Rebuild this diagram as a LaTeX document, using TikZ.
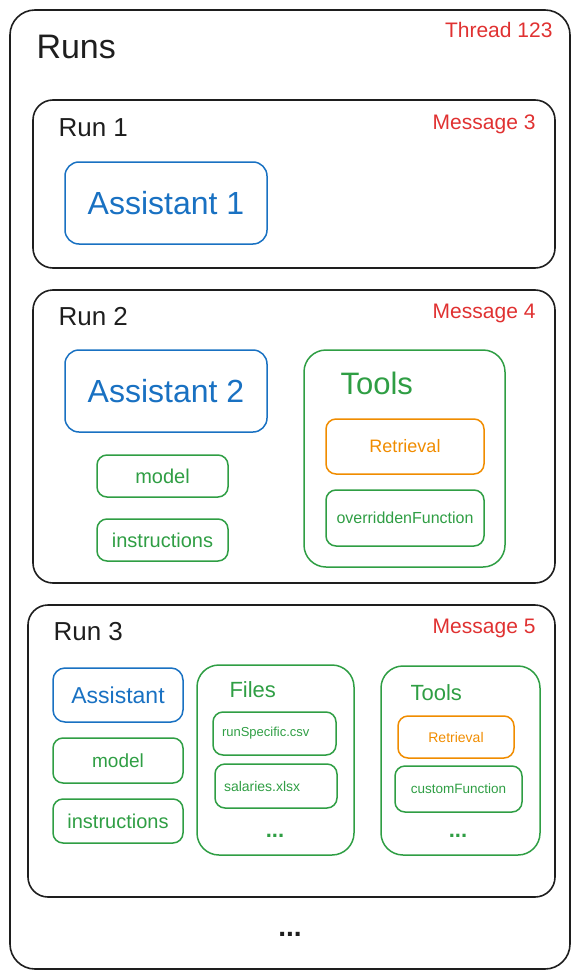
\documentclass[tikz,border=0pt]{standalone}
\usepackage{fontspec}
\setmainfont{Liberation Sans}
\usetikzlibrary{positioning}
\definecolor{inkblack}{HTML}{1E1E1E}
\definecolor{inkblue}{HTML}{1971C2}
\definecolor{inkgreen}{HTML}{2F9E44}
\definecolor{inkorange}{HTML}{F08C00}
\definecolor{inkred}{HTML}{E03131}
\tikzstyle{frame} = [rectangle, rounded corners=20pt, draw=inkblack, line width=1.6pt]
\tikzstyle{assistant} = [rectangle, rounded corners=14pt, draw=inkblue, line width=1.5pt, text=inkblue]
\tikzstyle{item} = [rectangle, rounded corners=10pt, draw=inkgreen, line width=1.5pt, text=inkgreen]
\tikzstyle{retrieval} = [rectangle, rounded corners=10pt, draw=inkorange, line width=1.5pt, text=inkorange]
\tikzstyle{group} = [rectangle, rounded corners=22pt, draw=inkgreen, line width=1.5pt]
\tikzstyle{title} = [anchor=west, text=inkblack]
\tikzstyle{msg} = [anchor=east, text=inkred]
\tikzstyle{grouptitle} = [anchor=west, text=inkgreen]
\tikzstyle{dots} = [text=inkgreen, font=\fontsize{22}{22}\selectfont\bfseries]

\begin{document}
\begin{tikzpicture}[x=1pt, y=-1pt]
		\useasboundingbox (0,0) rectangle (579,979);
		% thread
		\node (thread) [frame, rounded corners=25pt, minimum width=560pt, minimum height=959pt] at (290,489.5) {};
		\node (runs) [title, font=\fontsize{34}{40}\selectfont] at (33,47) {Runs};
		\node (threadid) [msg, font=\fontsize{21}{24}\selectfont] at (556,30) {Thread 123};
		
		% run 1
		\node (run1) [frame, minimum width=522pt, minimum height=168pt] at (294,184) {};
		\node (run1title) [title, font=\fontsize{26}{30}\selectfont] at (55,128) {Run 1};
		\node (msg3) [msg, font=\fontsize{21}{24}\selectfont] at (539,124) {Message 3};
		\node (asst1) [assistant, minimum width=202pt, minimum height=82pt, font=\fontsize{32}{36}\selectfont] at (166,203) {Assistant 1};
		
		% run 2
		\node (run2) [frame, minimum width=522pt, minimum height=293pt] at (294,436.5) {};
		\node (run2title) [title, font=\fontsize{26}{30}\selectfont] at (55,317) {Run 2};
		\node (msg4) [msg, font=\fontsize{21}{24}\selectfont] at (539,313) {Message 4};
		\node (asst2) [assistant, minimum width=202pt, minimum height=82pt, font=\fontsize{32}{36}\selectfont] at (166,391) {Assistant 2};
		\node (model2) [item, minimum width=131pt, minimum height=42pt, font=\fontsize{20}{24}\selectfont] at (162.5,476) {model};
		\node (instr2) [item, minimum width=131pt, minimum height=42pt, font=\fontsize{20}{24}\selectfont, below of=model2, node distance=64pt] {instructions};
		\node (tools2) [group, minimum width=201pt, minimum height=217pt] at (404.5,458.5) {};
		\node (tools2title) [grouptitle, font=\fontsize{31}{36}\selectfont] at (337,383) {Tools};
		\node (retr2) [retrieval, minimum width=158pt, minimum height=55pt, font=\fontsize{18}{22}\selectfont] at (405,446.5) {Retrieval};
		\node (overfn) [item, minimum width=158pt, minimum height=56pt, font=\fontsize{16}{20}\selectfont, below of=retr2, node distance=71.5pt] {overriddenFunction};
		
		% run 3
		\node (run3) [frame, minimum width=527pt, minimum height=292pt] at (291.5,751) {};
		\node (run3title) [title, font=\fontsize{26}{30}\selectfont] at (50,632) {Run 3};
		\node (msg5) [msg, font=\fontsize{21}{24}\selectfont] at (539,628) {Message 5};
		\node (asst3) [assistant, rounded corners=12pt, minimum width=130pt, minimum height=54pt, font=\fontsize{23}{28}\selectfont] at (118,695) {Assistant};
		\node (model3) [item, minimum width=130pt, minimum height=45pt, font=\fontsize{19}{24}\selectfont, below of=asst3, node distance=65.5pt] {model};
		\node (instr3) [item, minimum width=130pt, minimum height=44pt, font=\fontsize{20}{24}\selectfont, below of=model3, node distance=60.5pt] {instructions};
		\node (files) [group, minimum width=157pt, minimum height=190pt] at (275.5,760) {};
		\node (filestitle) [grouptitle, font=\fontsize{22}{26}\selectfont] at (226,690) {Files};
		\node (runcsv) [item, minimum height=43pt, text width=105pt, inner xsep=9pt, align=left, font=\fontsize{13}{16}\selectfont] at (274.5,733.5) {runSpecific.csv};
		\node (salxlsx) [item, minimum height=44pt, text width=104pt, inner xsep=9pt, align=left, font=\fontsize{14}{16}\selectfont, below of=runcsv, node distance=52.5pt, xshift=1.5pt] {salaries.xlsx};
		\node (filesdots) [dots] at (275,836) {...};
		\node (tools3) [group, minimum width=159pt, minimum height=189pt] at (460.5,760.5) {};
		\node (tools3title) [grouptitle, font=\fontsize{22}{26}\selectfont] at (407,693) {Tools};
		\node (retr3) [retrieval, minimum width=116pt, minimum height=42pt, font=\fontsize{14}{16}\selectfont] at (456,737) {Retrieval};
		\node (customfn) [item, minimum width=127pt, minimum height=46pt, font=\fontsize{13.5}{16}\selectfont, below of=retr3, node distance=52pt, xshift=2.5pt] {customFunction};
		\node (toolsdots) [dots] at (458,836) {...};
		
		% more runs
		\node (moredots) [text=inkblack, font=\fontsize{28}{28}\selectfont\bfseries] at (290,934) {...};
		\end{tikzpicture}
\end{document}
